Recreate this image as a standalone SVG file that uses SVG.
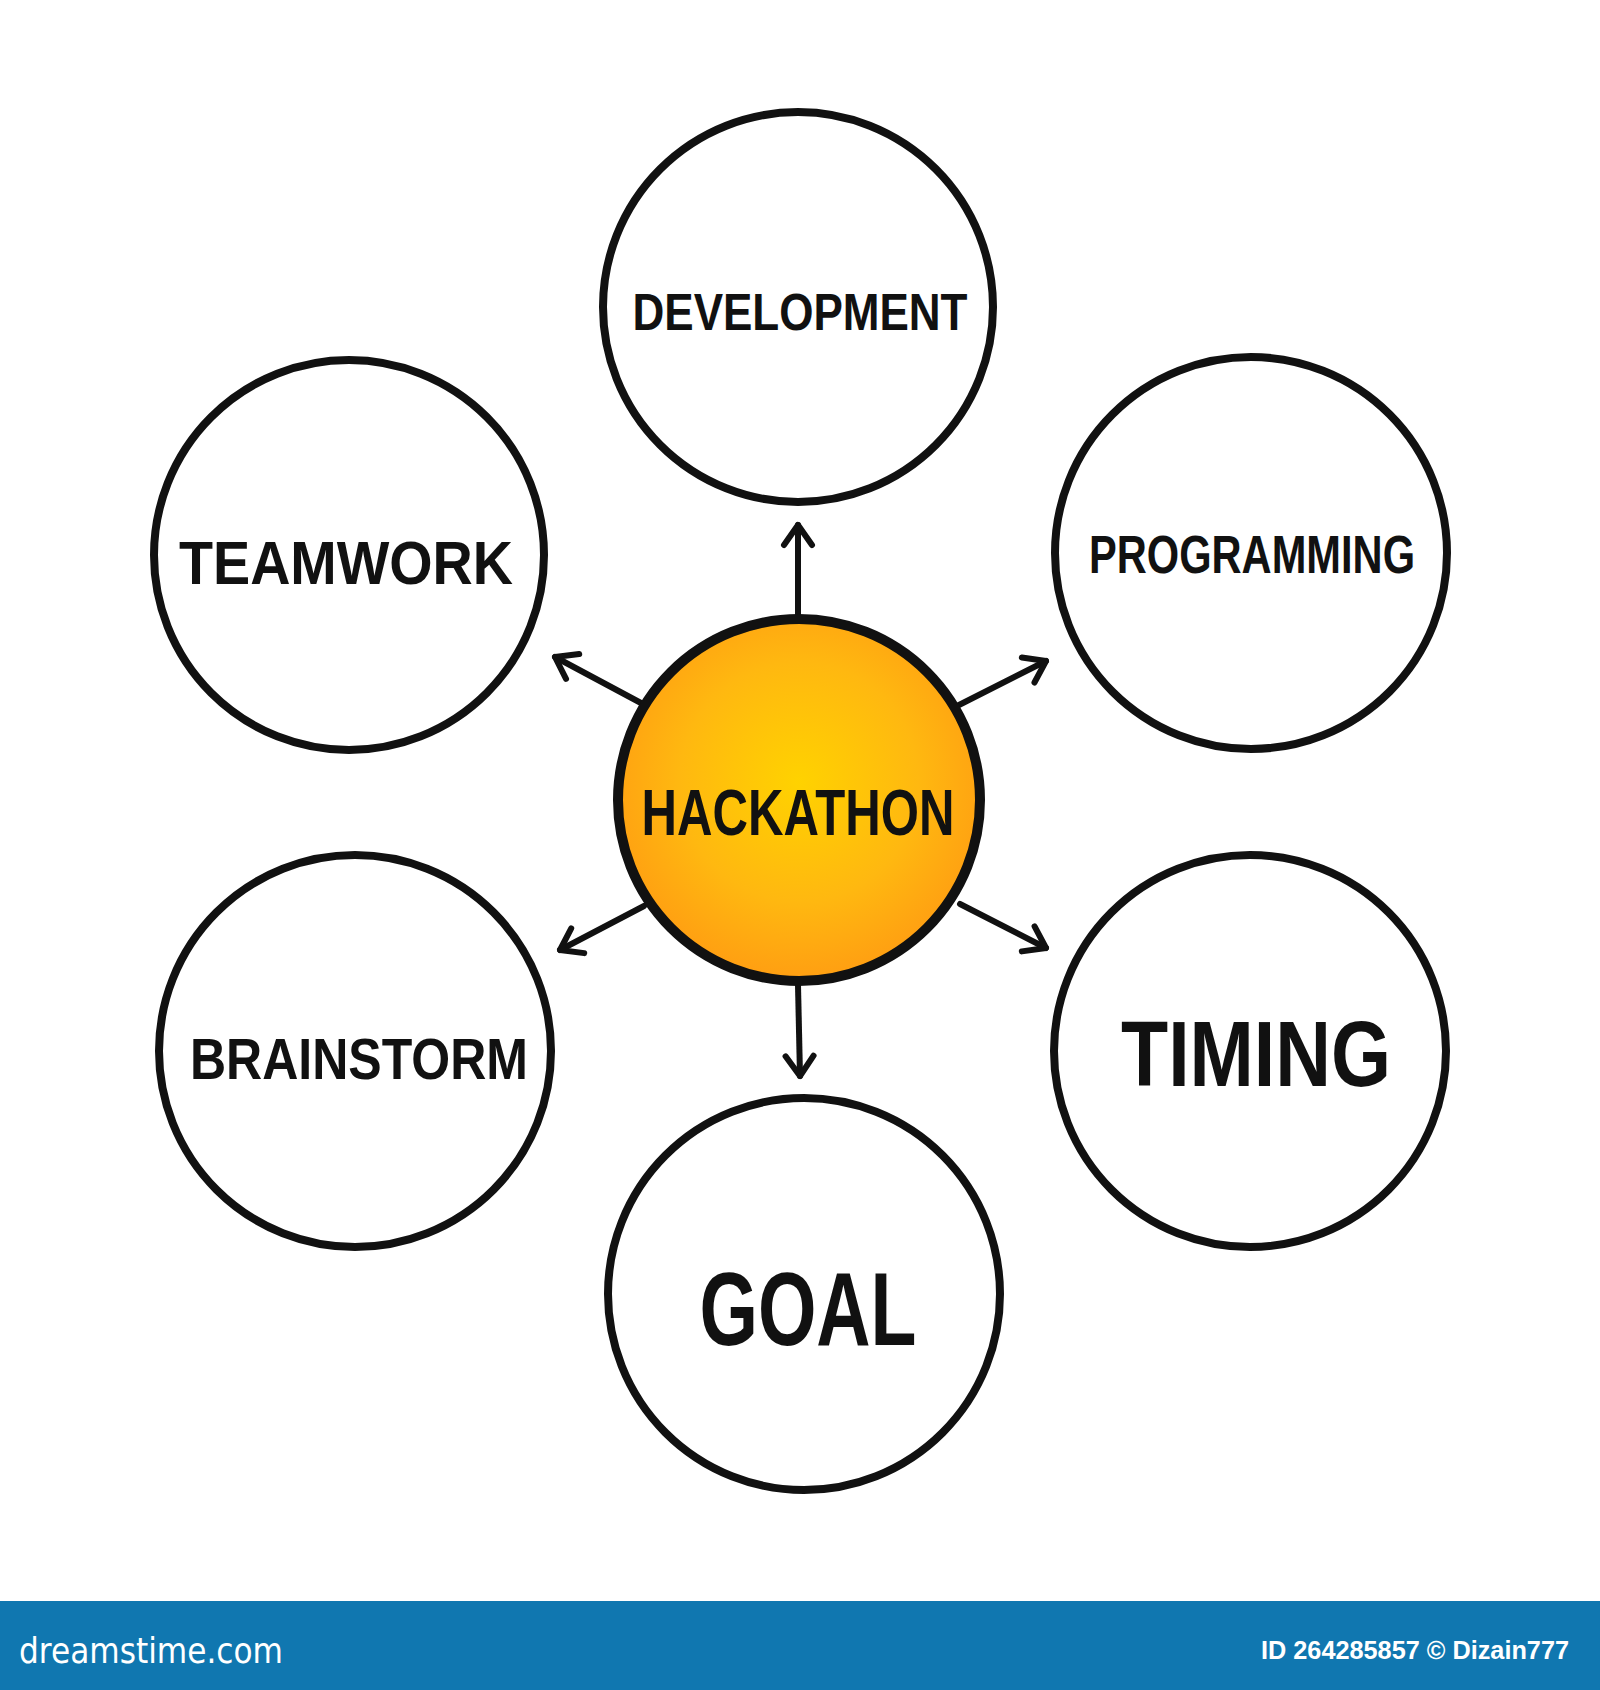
<svg xmlns="http://www.w3.org/2000/svg" width="1600" height="1690" viewBox="0 0 1600 1690">
<defs>
<style>
.node{fill:#fff;stroke:#111;stroke-width:8}
.lbl{font-family:"Liberation Sans",Arial,sans-serif;font-weight:bold;fill:#111;text-anchor:middle}
.conn{stroke:#111;stroke-width:6;stroke-linecap:round;fill:none}
.ban{font-family:"DejaVu Sans","Liberation Sans",sans-serif;fill:#fff}
</style>
<radialGradient id="g" cx="0.5" cy="0.45" r="0.55">
<stop offset="0" stop-color="#FFD200"/>
<stop offset="0.6" stop-color="#FFB810"/>
<stop offset="1" stop-color="#FF9E12"/>
</radialGradient>
<marker id="ah" viewBox="-30 -20 40 40" refX="0" refY="0" markerWidth="40" markerHeight="40" markerUnits="userSpaceOnUse" orient="auto">
<path d="M-20,-14 L0,0 L-20,14" fill="none" stroke="#111" stroke-width="6" stroke-linecap="round" stroke-linejoin="round"/>
</marker>
</defs>
<rect width="1600" height="1690" fill="#fff"/>
<g id="connectors">
<line class="conn" x1="798" y1="618" x2="798" y2="525" marker-end="url(#ah)"/>
<line class="conn" x1="798" y1="985" x2="800" y2="1076" marker-end="url(#ah)"/>
<line class="conn" x1="641" y1="703" x2="555" y2="657" marker-end="url(#ah)"/>
<line class="conn" x1="957" y1="706" x2="1046" y2="661" marker-end="url(#ah)"/>
<line class="conn" x1="644" y1="906" x2="560" y2="950" marker-end="url(#ah)"/>
<line class="conn" x1="960" y1="904" x2="1046" y2="948" marker-end="url(#ah)"/>
</g>
<g id="node-development">
<circle class="node" cx="798" cy="307" r="195"/>
<text class="lbl" x="800" y="330" font-size="52" textLength="335" lengthAdjust="spacingAndGlyphs">DEVELOPMENT</text>
</g>
<g id="node-teamwork">
<circle class="node" cx="349" cy="555" r="195"/>
<text class="lbl" x="346" y="584" font-size="62" textLength="334" lengthAdjust="spacingAndGlyphs">TEAMWORK</text>
</g>
<g id="node-programming">
<circle class="node" cx="1251" cy="553" r="196"/>
<text class="lbl" x="1252" y="573" font-size="54" textLength="326" lengthAdjust="spacingAndGlyphs">PROGRAMMING</text>
</g>
<g id="node-brainstorm">
<circle class="node" cx="355" cy="1051" r="196"/>
<text class="lbl" x="359" y="1079" font-size="58" textLength="338" lengthAdjust="spacingAndGlyphs">BRAINSTORM</text>
</g>
<g id="node-timing">
<circle class="node" cx="1250" cy="1051" r="196"/>
<text class="lbl" x="1256" y="1086" font-size="92" textLength="270" lengthAdjust="spacingAndGlyphs">TIMING</text>
</g>
<g id="node-goal">
<circle class="node" cx="804" cy="1294" r="196"/>
<text class="lbl" x="808" y="1345" font-size="104" textLength="217" lengthAdjust="spacingAndGlyphs">GOAL</text>
</g>
<g id="node-hackathon">
<circle cx="799" cy="800" r="181" fill="url(#g)" stroke="#111" stroke-width="10"/>
<text class="lbl" x="798" y="835" font-size="64" textLength="313" lengthAdjust="spacingAndGlyphs">HACKATHON</text>
</g>
<g id="banner">
<rect x="0" y="1601" width="1600" height="89" fill="#1077b0"/>
<text class="ban" x="19" y="1663" font-size="36" textLength="264" lengthAdjust="spacingAndGlyphs">dreamstime.com</text>
<text x="1261" y="1659" font-family="'Liberation Sans',Arial,sans-serif" fill="#fff" font-size="25" font-weight="bold" textLength="308" lengthAdjust="spacingAndGlyphs">ID 264285857 © Dizain777</text>
</g>
</svg>
